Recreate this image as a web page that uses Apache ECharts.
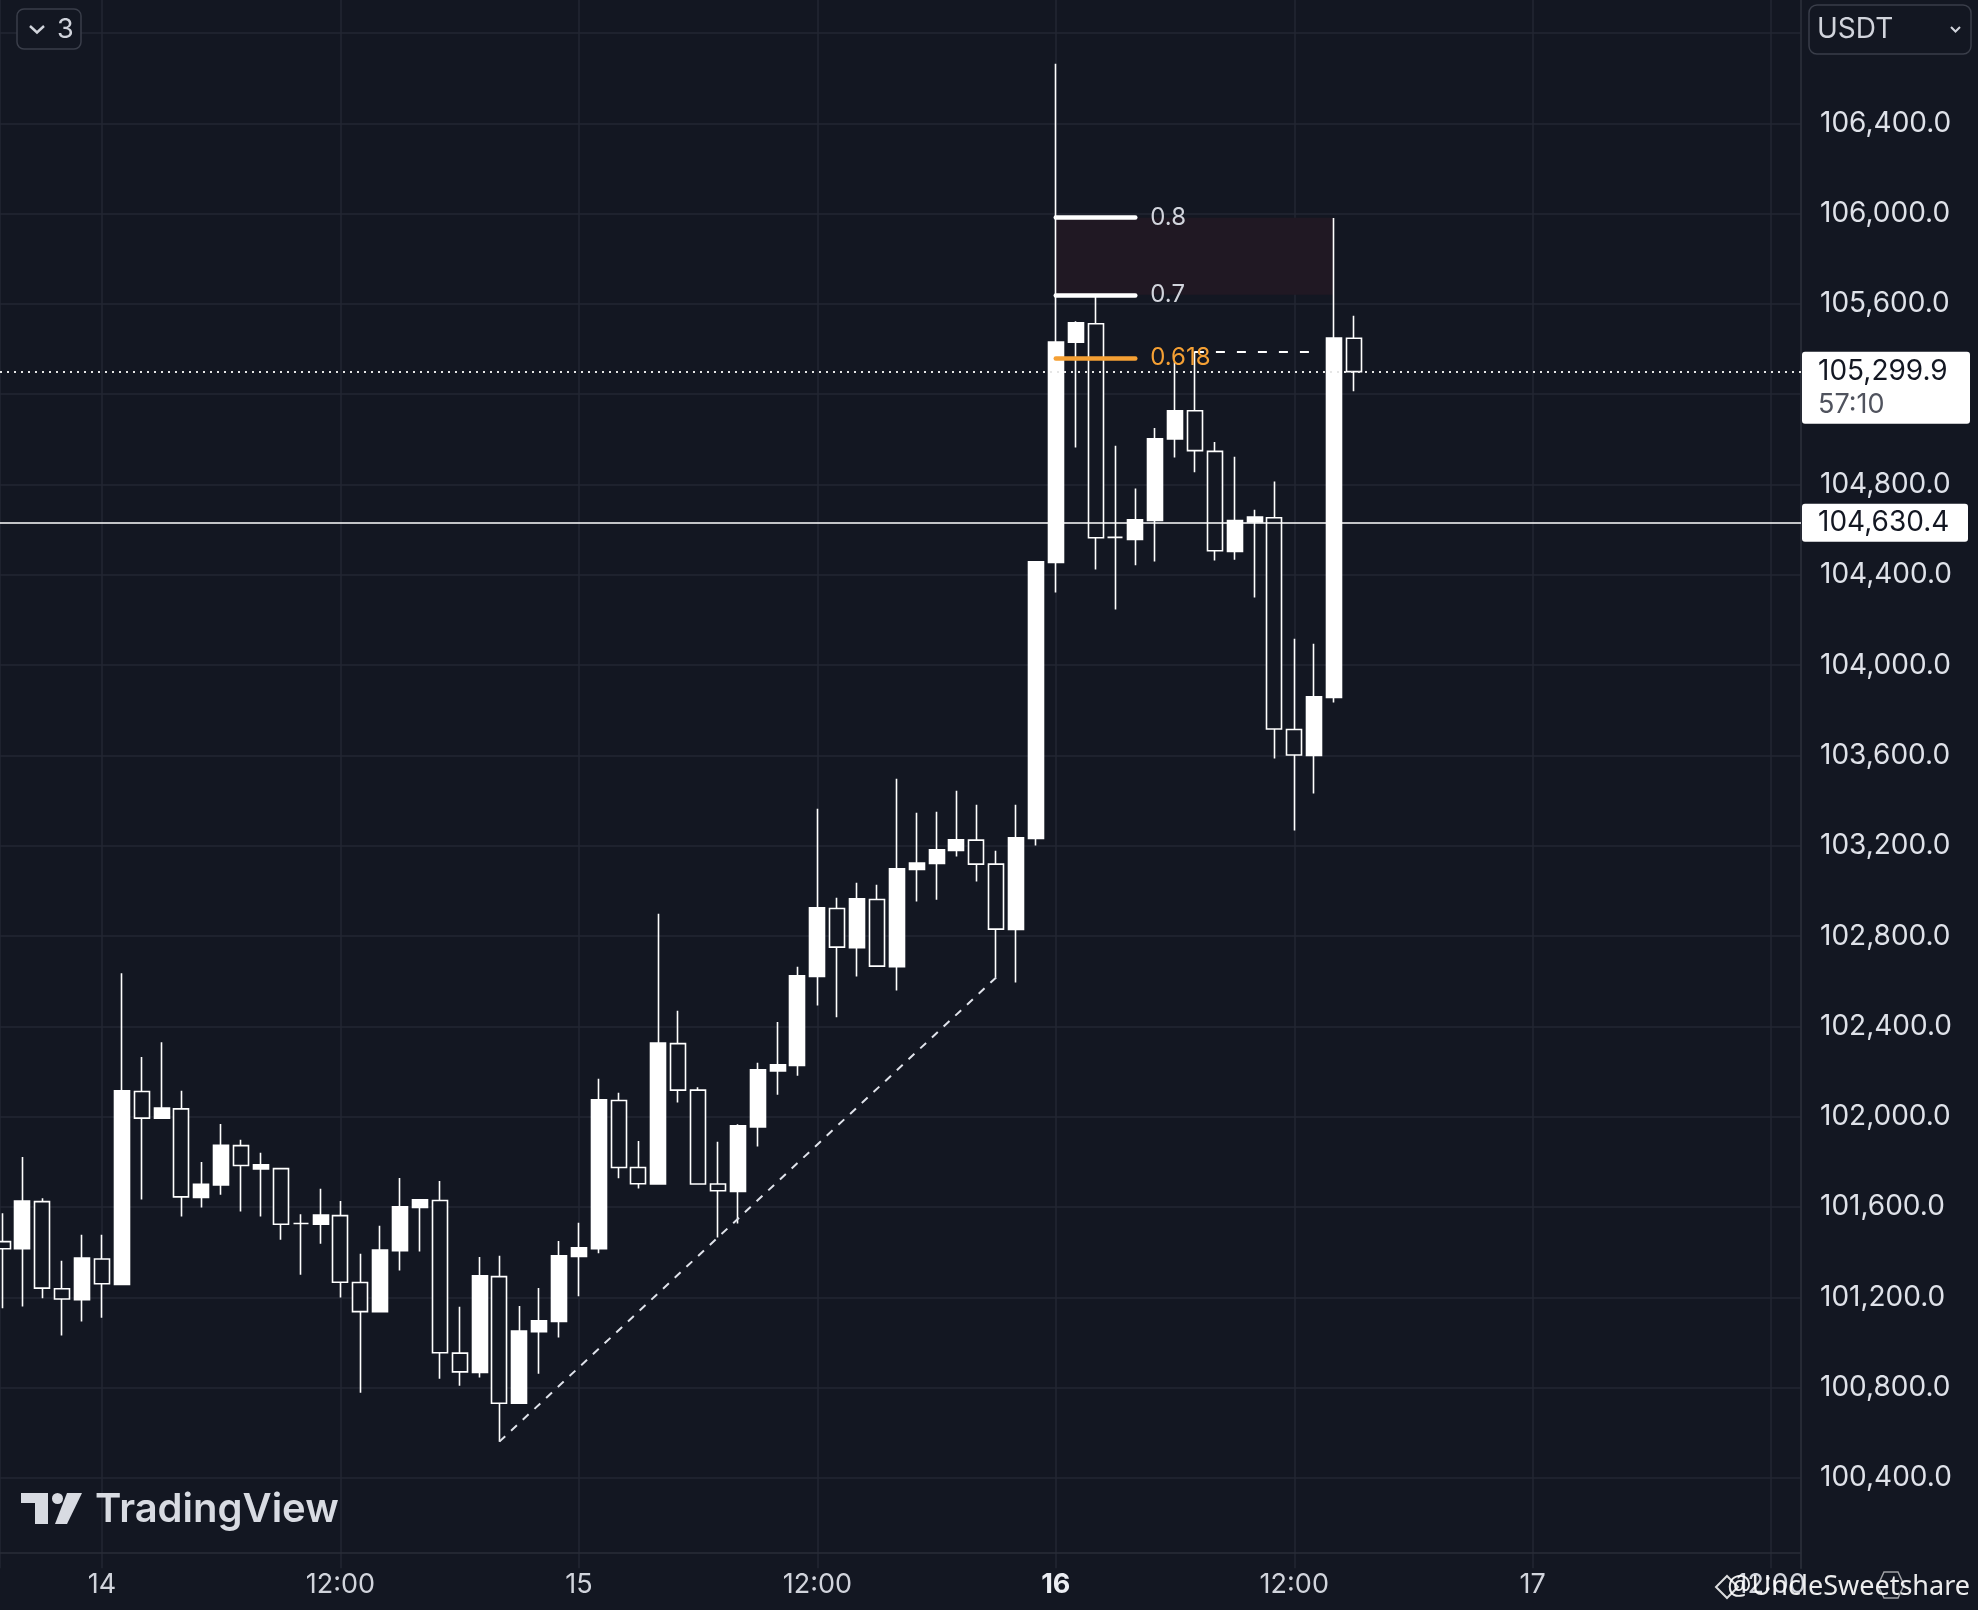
<!DOCTYPE html>
<html>
<head>
<meta charset="utf-8">
<title>BTCUSDT 1h</title>
<script src="https://cdn.jsdelivr.net/npm/echarts@6/dist/echarts.min.js"></script>
<style>
  html, body { margin: 0; padding: 0; background: #131722; }
  #chart { width: 1978px; height: 1610px; }
</style>
</head>
<body>
<div id="chart"></div>
<script>
// hourly candles, first one is 13 19:00, last one 16 15:00
var opens  = [101447, 101415, 101624, 101238, 101190, 101370, 101257, 102112, 101994, 102035,
              101642, 101698, 101872, 101769, 101770, 101527, 101524, 101562, 101266, 101137,
              101407, 101598, 101629, 100953, 100867, 101292, 100731, 101048, 101093, 101381,
              101416, 102072, 101775, 101702, 102324, 102118, 101702, 101669, 101955, 102203,
              102227, 102621, 102922, 102749, 102962, 102665, 103095, 103122, 103179, 103225,
              103119, 102829, 103232, 104455, 105430, 105512, 104566, 104557, 104641, 105002,
              105127, 104947, 104504, 104634, 104653, 103715, 103600, 103857, 105448];
var closes = [101415, 101627, 101241, 101193, 101374, 101260, 102115, 101994, 102038, 101645,
              101701, 101874, 101784, 101787, 101524, 101527, 101564, 101267, 101137, 101410,
              101601, 101632, 100955, 100870, 101295, 100731, 101051, 101096, 101384, 101419,
              102075, 101775, 101703, 102326, 102118, 101702, 101672, 101960, 102208, 102230,
              102624, 102925, 102751, 102965, 102667, 103098, 103123, 103182, 103227, 103119,
              102831, 103235, 104458, 105431, 105516, 104564, 104566, 104644, 105003, 105127,
              104950, 104507, 104640, 104656, 103717, 103602, 103860, 105449, 105299.9];
var lows   = [101152, 101159, 101196, 101031, 101093, 101110, 101257, 101633, 101994, 101558,
              101598, 101654, 101580, 101558, 101455, 101300, 101437, 101199, 100778, 101133,
              101319, 101403, 100840, 100809, 100845, 100561, 100731, 100862, 101022, 101205,
              101395, 101728, 101682, 101702, 102063, 101702, 101465, 101527, 101868, 102097,
              102181, 102493, 102441, 102621, 102667, 102559, 102953, 102961, 103153, 103042,
              102617, 102594, 103201, 104322, 104964, 104424, 104247, 104442, 104459, 104920,
              104854, 104464, 104467, 104300, 103587, 103268, 103432, 103835, 105213];
var highs  = [101573, 101822, 101639, 101362, 101477, 101477, 102636, 102265, 102330, 102115,
              101800, 101968, 101898, 101840, 101770, 101568, 101681, 101627, 101393, 101517,
              101729, 101636, 101715, 101158, 101379, 101384, 101162, 101242, 101450, 101530,
              102168, 102106, 101893, 102899, 102469, 102131, 101889, 101967, 102239, 102420,
              102664, 103364, 102970, 103036, 103027, 103497, 103346, 103351, 103444, 103382,
              103178, 103382, 104458, 106664, 105523, 105631, 104972, 104782, 105050, 105343,
              105390, 104988, 104923, 104688, 104813, 104117, 104095, 105981, 105548];

var HOUR = 3600 * 1000;
var firstCandle = new Date(2025, 5, 13, 19, 0, 0).getTime();
var dayStart = new Date(2025, 5, 14, 0, 0, 0).getTime();
var viewFromHour = -5.13;   // hours from dayStart at the left edge
var viewToHour = 85.5;      // and at the price scale
var boldDay = 16;

// fib drawing
var fibLevels = [0.8, 0.7, 0.618];
var fibColors = ['#ffffff', '#ffffff', '#f5a034'];
var fibLow = 103250;
var fibHigh = 106665;
var fibFrom = 53, fibTo = 57, zoneTo = 67;

// other drawings (candle indexes)
var trendFrom = 25, trendTo = 50;
var levelFrom = 60, levelTo = 66;

var refPrice = 104630.4;
var lastPrice = 105299.9;
var countdown = '57:10';

var yMin = 100000, yMax = 106946, yStep = 400;
var labelMin = 100400, labelMax = 106400;

function tAt(i) {
    return firstCandle + i * HOUR;
}

var candles = opens.map(function (o, i) {
    return [tAt(i), o, closes[i], lows[i], highs[i]];
});

function fibPrice(lvl) {
    return fibLow + lvl * (fibHigh - fibLow);
}

function fmtPrice(v) {
    return v.toLocaleString('en-US', { minimumFractionDigits: 1, maximumFractionDigits: 1 });
}

var GRID = '#232733';
var TXT = '#d1d4dc';

// markLines
var lines = [
    { yAxis: refPrice, lineStyle: { color: '#ffffff', width: 1.6, type: 'solid' } },
    { yAxis: lastPrice, lineStyle: { color: '#e6e6e6', width: 2, type: [2, 5] } },
    [
        { coord: [tAt(levelFrom), highs[levelFrom]], lineStyle: { color: '#ffffff', width: 2, type: [9, 12] } },
        { coord: [tAt(levelTo), highs[levelFrom]] }
    ],
    [
        { coord: [tAt(trendFrom), lows[trendFrom]], lineStyle: { color: '#e0e3eb', width: 2, type: [8, 8] } },
        { coord: [tAt(trendTo), lows[trendTo]] }
    ]
];
fibLevels.forEach(function (lvl, k) {
    lines.push([
        {
            coord: [tAt(fibFrom), fibPrice(lvl)],
            lineStyle: { color: fibColors[k], width: 4.5, type: 'solid', cap: 'round' },
            label: {
                show: true, position: 'end', distance: 15,
                formatter: String(lvl), color: k === 2 ? fibColors[k] : TXT,
                fontSize: 24, fontFamily: 'Inter'
            }
        },
        { coord: [tAt(fibTo), fibPrice(lvl)] }
    ]);
});

var chart = echarts.init(document.getElementById('chart'));

var option = {
    backgroundColor: '#131722',
    animation: false,
    textStyle: { fontFamily: 'Inter' },
    grid: { left: 0, right: 177, top: 0, bottom: 41.7 },
    xAxis: {
        type: 'time',
        min: dayStart + viewFromHour * HOUR,
        max: dayStart + viewToHour * HOUR,
        // a bit over 12h so the time scale steps by 12 hours
        minInterval: 12.5 * HOUR,
        maxInterval: 12.5 * HOUR,
        offset: -15.6,
        axisLine: { show: true, lineStyle: { color: '#2a2e39', width: 1.5 } },
        axisTick: { show: false },
        axisLabel: {
            color: TXT,
            fontSize: 27,
            margin: 19,
            showMinLabel: false,
            showMaxLabel: false,
            formatter: function (v) {
                var d = new Date(v);
                if (d.getMinutes() !== 0) return '';
                if (d.getHours() === 12) return '12:00';
                if (d.getHours() === 0) {
                    return d.getDate() === boldDay ? '{b|' + d.getDate() + '}' : String(d.getDate());
                }
                return '';
            },
            rich: { b: { fontWeight: 'bold', fontSize: 27, color: '#eceef3' } }
        },
        splitLine: { show: true, lineStyle: { color: GRID, width: 1.5 } }
    },
    yAxis: {
        type: 'value',
        position: 'right',
        min: yMin,
        max: yMax,
        interval: yStep,
        axisLine: { show: true, lineStyle: { color: '#2a2e39', width: 1.5 } },
        axisTick: { show: false },
        axisLabel: {
            color: '#dfe2e9',
            fontSize: 28,
            margin: 19,
            formatter: function (v) {
                return (v < labelMin || v > labelMax) ? '' : fmtPrice(v);
            }
        },
        splitLine: { show: true, showMinLine: false, showMaxLine: false, lineStyle: { color: GRID, width: 1.5 } }
    },
    series: [{
        type: 'candlestick',
        data: candles,
        encode: { x: 0, y: [1, 2, 3, 4] },
        barWidth: 15.5,
        itemStyle: {
            color: '#ffffff',
            color0: '#131722',
            borderColor: '#ffffff',
            borderColor0: '#ffffff',
            borderColorDoji: '#ffffff',
            borderWidth: 1.6
        },
        markArea: {
            silent: true,
            itemStyle: { color: '#201823' },
            data: [[{ coord: [tAt(fibFrom), fibPrice(0.7)] }, { coord: [tAt(zoneTo), fibPrice(0.8)] }]]
        },
        markLine: {
            silent: true,
            symbol: ['none', 'none'],
            label: { show: false },
            data: lines
        }
    }]
};

chart.setOption(option);

// price boxes on the right axis, placed through the y scale
var yLast = chart.convertToPixel({ yAxisIndex: 0 }, lastPrice);
var yRef = chart.convertToPixel({ yAxisIndex: 0 }, refPrice);

function txt(x, y, s, size, color, extra) {
    var st = { text: s, font: (extra || '') + size + 'px Inter', fill: color, align: 'left', verticalAlign: 'middle' };
    return { type: 'text', x: x, y: y, z: 100, style: st };
}

chart.setOption({
    graphic: [
        // current price + countdown
        { type: 'rect', z: 99, shape: { x: 1802, y: yLast - 20, width: 168, height: 72, r: 3 }, style: { fill: '#ffffff' } },
        txt(1818, yLast, fmtPrice(lastPrice), 28, '#131722'),
        txt(1818, yLast + 33, countdown, 27, '#50535e'),
        // line price
        { type: 'rect', z: 99, shape: { x: 1802, y: yRef - 19, width: 166, height: 38, r: 3 }, style: { fill: '#ffffff' } },
        txt(1818, yRef, fmtPrice(refPrice), 28, '#131722'),
        // currency button
        { type: 'rect', z: 99, shape: { x: 1809, y: 5, width: 162, height: 49, r: 8 }, style: { fill: '#131722', stroke: '#3a3e4a', lineWidth: 1.5 } },
        txt(1817, 30, 'USDT', 28, TXT),
        { type: 'polyline', z: 100, shape: { points: [[1951, 27], [1955.5, 31.5], [1960, 27]] }, style: { stroke: TXT, lineWidth: 2, fill: null } },
        // pane collapse button
        { type: 'rect', z: 99, shape: { x: 17, y: 9, width: 64, height: 40, r: 7 }, style: { fill: '#131722', stroke: '#3a3e4a', lineWidth: 1.5 } },
        { type: 'polyline', z: 100, shape: { points: [[30, 26], [37, 32.5], [44, 26]] }, style: { stroke: TXT, lineWidth: 2.4, fill: null } },
        txt(57, 30, '3', 27, TXT),
        // TradingView logo
        { type: 'rect', z: 100, shape: { x: 21, y: 1493, width: 27, height: 10 }, style: { fill: '#d8dbe2' } },
        { type: 'rect', z: 100, shape: { x: 35, y: 1493, width: 13, height: 31 }, style: { fill: '#d8dbe2' } },
        { type: 'circle', z: 100, shape: { cx: 57.5, cy: 1498.5, r: 5.5 }, style: { fill: '#d8dbe2' } },
        { type: 'polygon', z: 100, shape: { points: [[67, 1493], [82, 1493], [67, 1524], [55, 1524]] }, style: { fill: '#d8dbe2' } },
        txt(95, 1510, 'TradingView', 40, '#d8dbe2', '600 '),
        // watermark
        { type: 'polygon', z: 100, shape: { points: [[1727, 1576], [1738, 1587], [1727, 1598], [1716, 1587]] }, style: { fill: null, stroke: 'rgba(255,255,255,0.85)', lineWidth: 2 } },
        { type: 'polygon', z: 100, shape: { points: [[1884, 1572], [1898, 1572], [1904, 1585], [1898, 1598], [1884, 1598], [1878, 1585]] }, style: { fill: null, stroke: 'rgba(255,255,255,0.6)', lineWidth: 1.5 } },
        { type: 'text', x: 1970, y: 1587, z: 100, style: { text: '@UncleSweetshare', font: '27px "Noto Sans"', fill: 'rgba(255,255,255,0.92)', align: 'right', verticalAlign: 'middle' } }
    ]
});
</script>
</body>
</html>
